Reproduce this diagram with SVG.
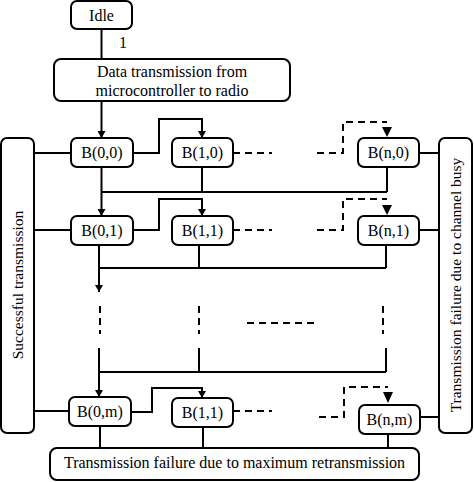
<svg xmlns="http://www.w3.org/2000/svg" width="474" height="482" viewBox="0 0 474 482">
<defs>
<style>
.box{fill:#fff;stroke:#000;stroke-width:2}
.ln{fill:none;stroke:#000;stroke-width:2}
.ds{fill:none;stroke:#000;stroke-width:2;stroke-dasharray:7 5}
text{font-family:'Liberation Serif','Times New Roman','DejaVu Serif',serif;fill:#000;text-anchor:middle}
.t{font-size:16px}
.tv{font-size:15.5px}
</style>
<marker id="a" markerUnits="userSpaceOnUse" markerWidth="8" markerHeight="8" refX="7" refY="4" orient="auto"><path d="M0,0 L7,4 L0,8 Z" fill="#000"/></marker>
</defs>
<rect width="474" height="482" fill="#fff"/>
<g id="connectors">
<path class="ln" d="M101.5,29 V59"/>
<path class="ln" d="M101.5,101 V138" marker-end="url(#a)"/>
<path class="ln" d="M133,153 H159 V119 H202 V138" marker-end="url(#a)"/>
<path class="ds" d="M233,153 H272"/>
<path class="ds" d="M317,153 H343 V122 H387"/>
<path d="M382,127 H392 L387,137 Z" fill="#000"/>
<path class="ln" d="M34,153 H71"/>
<path class="ln" d="M419,153 H439"/>
<path class="ln" d="M101.5,167 V216" marker-end="url(#a)"/>
<path class="ln" d="M202,167 V192 M387,167 V192 M101.5,192 H387"/>
<path class="ln" d="M133,230 H159 V199 H202 V216" marker-end="url(#a)"/>
<path class="ds" d="M233,230 H272"/>
<path class="ds" d="M317,230 H343 V199 H387"/>
<path d="M382,205 H392 L387,215 Z" fill="#000"/>
<path class="ln" d="M34,230 H71"/>
<path class="ln" d="M419,230 H439"/>
<path class="ln" d="M99,245 V292" marker-end="url(#a)"/>
<path class="ln" d="M199,245 V268 M386,245 V268 M99,268 H386"/>
<path class="ds" d="M100,306 V334 M199,306 V334 M383,306 V334"/>
<path class="ds" d="M247,323 H317"/>
<path class="ln" d="M99,348 V397" marker-end="url(#a)"/>
<path class="ln" d="M199,348 V372 M386,348 V372 M99,372 H386"/>
<path class="ln" d="M131,412 H152 V388 H202 V398" marker-end="url(#a)"/>
<path class="ds" d="M233,411 H272"/>
<path class="ds" d="M319,417 H344 V387 H388"/>
<path d="M383,392 H393 L388,403 Z" fill="#000"/>
<path class="ln" d="M34,411 H69"/>
<path class="ln" d="M420,417 H439"/>
<path class="ln" d="M100,426 V448 M203,427 V448 M388,434 V448"/>
</g>
<text class="t" x="123" y="48">1</text>
<g id="idle"><rect class="box" x="71" y="1" width="61" height="28" rx="6"/><text class="t" x="101.5" y="21">Idle</text></g>
<g id="data"><rect class="box" x="54" y="59" width="236" height="42" rx="7"/><text class="t" x="172" y="77">Data transmission from</text><text class="t" x="172" y="96">microcontroller to radio</text></g>
<g id="success"><rect class="box" x="1" y="138" width="33" height="295" rx="6"/><text class="tv" transform="translate(23,285) rotate(-90)">Successful transmission</text></g>
<g id="busy"><rect class="box" x="439" y="138" width="33" height="295" rx="6"/><text class="tv" transform="translate(461,285) rotate(-90)">Transmission failure due to channel busy</text></g>
<g id="b00"><rect class="box" x="71" y="138" width="62" height="29" rx="6"/><text class="t" x="102" y="158">B(0,0)</text></g>
<g id="b10"><rect class="box" x="172" y="138" width="61" height="29" rx="6"/><text class="t" x="202.5" y="158">B(1,0)</text></g>
<g id="bn0"><rect class="box" x="358" y="138" width="61" height="29" rx="6"/><text class="t" x="388.5" y="158">B(n,0)</text></g>
<g id="b01"><rect class="box" x="71" y="216" width="62" height="29" rx="6"/><text class="t" x="102" y="236">B(0,1)</text></g>
<g id="b11"><rect class="box" x="172" y="216" width="61" height="29" rx="6"/><text class="t" x="202.5" y="236">B(1,1)</text></g>
<g id="bn1"><rect class="box" x="358" y="216" width="61" height="29" rx="6"/><text class="t" x="388.5" y="236">B(n,1)</text></g>
<g id="b0m"><rect class="box" x="69" y="397" width="62" height="29" rx="6"/><text class="t" x="100" y="417">B(0,m)</text></g>
<g id="b11m"><rect class="box" x="172" y="398" width="61" height="29" rx="6"/><text class="t" x="202.5" y="418">B(1,1)</text></g>
<g id="bnm"><rect class="box" x="359" y="405" width="61" height="29" rx="6"/><text class="t" x="389.5" y="425">B(n,m)</text></g>
<g id="maxretx"><rect class="box" x="50" y="448" width="369" height="32" rx="7"/><text class="t" x="234.5" y="468">Transmission failure due to maximum retransmission</text></g>
</svg>
